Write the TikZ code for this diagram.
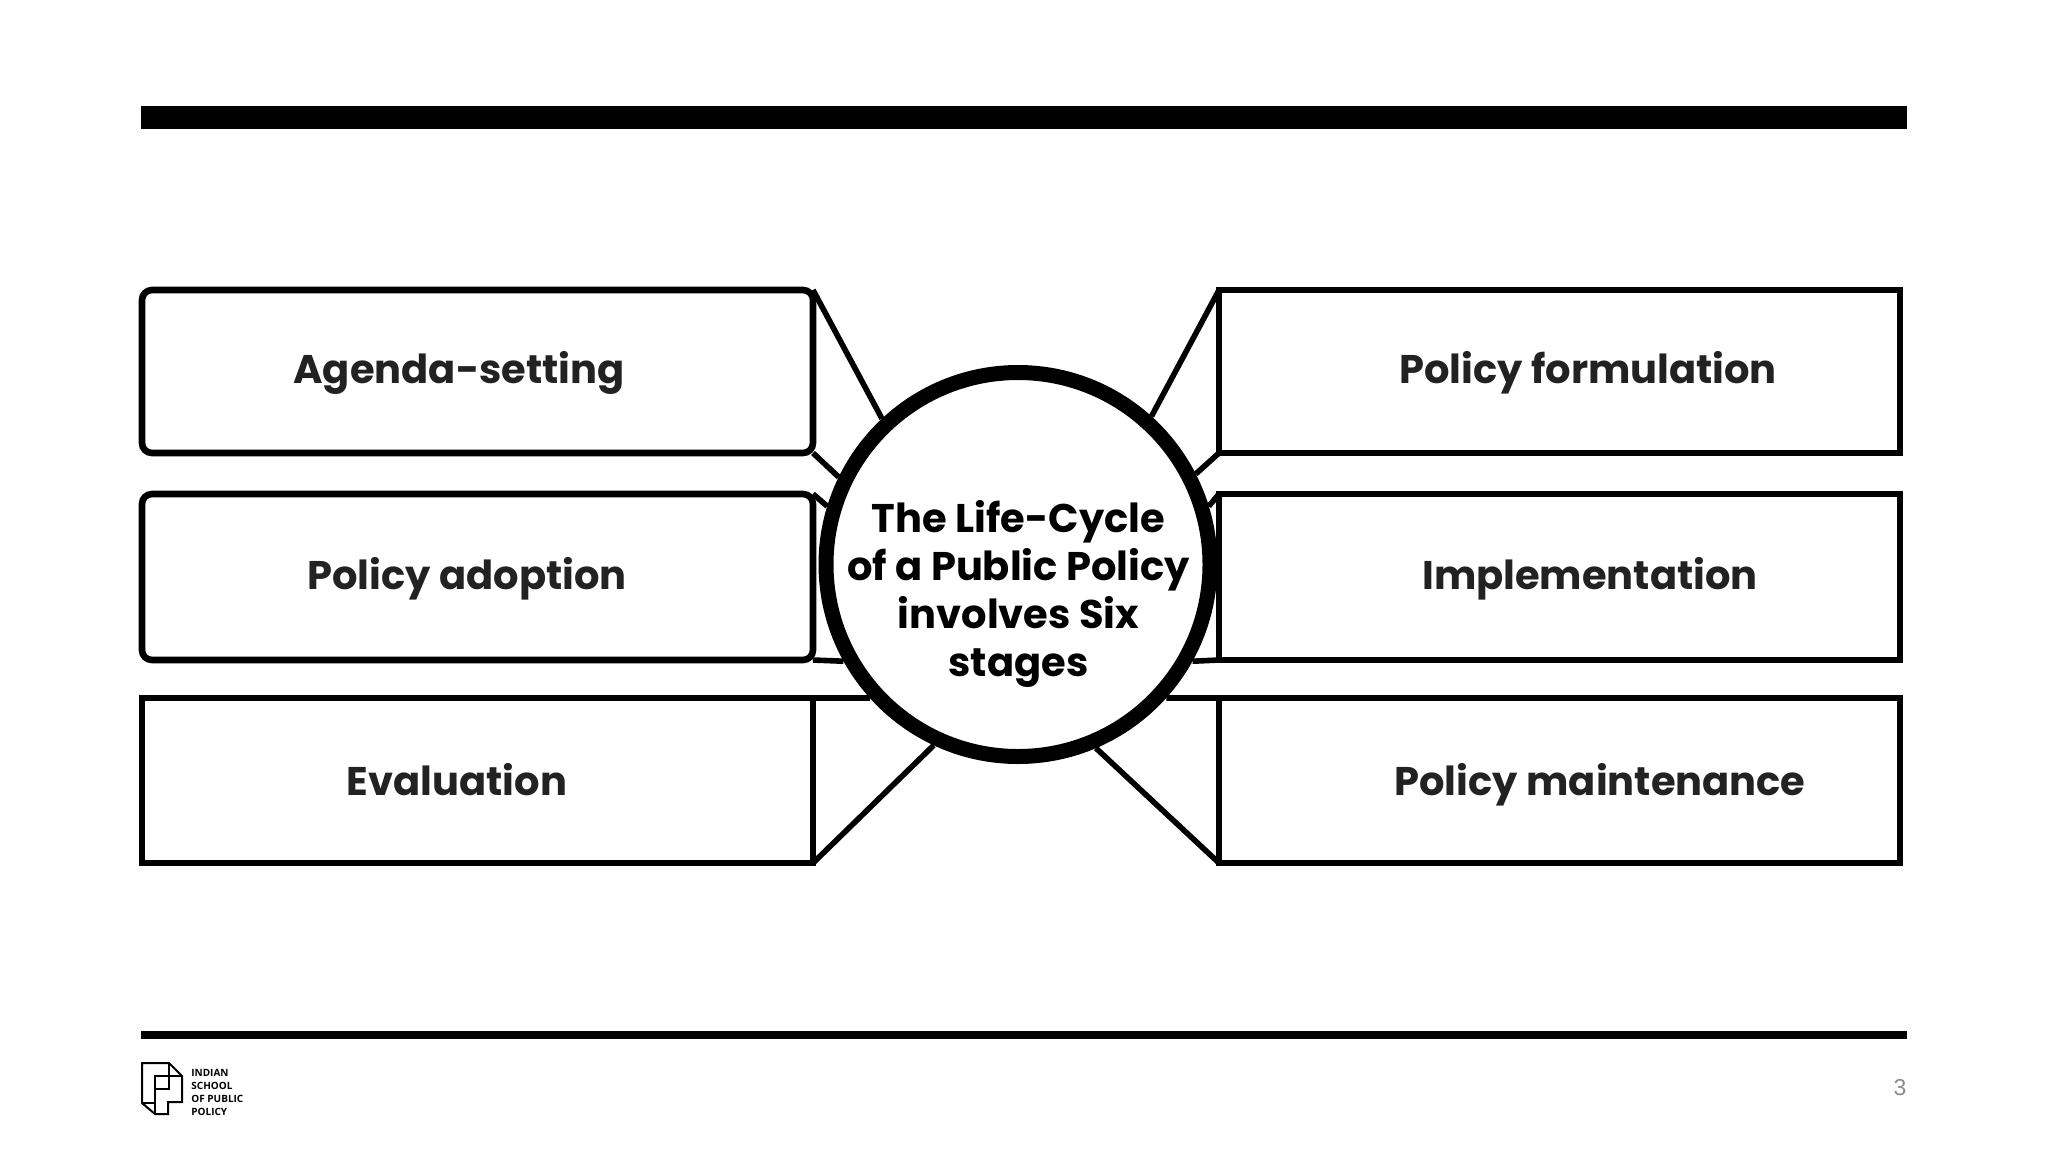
\documentclass[tikz,border=0pt]{standalone}
\usepackage{fontspec}
\setmainfont{Poppins}
\newfontfamily\logofont{Open Sans}
\newfontfamily\pagefont{Liberation Sans}
\definecolor{labelgray}{HTML}{222222}
\definecolor{pagegray}{HTML}{8C8C8C}

\tikzset{
	stagebox/.style={draw=black,line width=3.3pt,inner sep=0pt,outer sep=0pt,minimum height=#1},
	softbox/.style={rounded corners=5pt},
	leftbox/.style={minimum width=335.5pt},
	rightbox/.style={minimum width=340.5pt},
	stagelabel/.style={anchor=base,text=labelgray,font=\fontsize{20}{24}\selectfont\bfseries},
	wing/.style={line width=2.8pt},
	logoline/.style={line width=1pt,line join=miter},
	logotext/.style={anchor=west,inner sep=0pt,font=\logofont\fontsize{5}{5}\selectfont\bfseries}
}

\begin{document}
\begin{tikzpicture}[x=0.5pt,y=-0.5pt]
\useasboundingbox (0,0) rectangle (2048,1152);

% rules
\fill[black] (141,106) rectangle (1907,129);
\fill[black] (141,1031) rectangle (1907,1039);

% boxes
\node[stagebox=163*0.5pt,leftbox,softbox] (agenda) at (477.5,371.5) {};
\node[stagebox=166*0.5pt,leftbox,softbox] (adoption) at (477.5,577) {};
\node[stagebox=165*0.5pt,leftbox] (evaluation) at (477.5,780.5) {};
\node[stagebox=163*0.5pt,rightbox] (formulation) at (1559.5,371.5) {};
\node[stagebox=166*0.5pt,rightbox] (implementation) at (1559.5,577) {};
\node[stagebox=165*0.5pt,rightbox] (maintenance) at (1559.5,780.5) {};

% centre
\node[circle,draw=black,fill=white,line width=7.5pt,minimum size=192pt,inner sep=0pt] (hub) at (1018,564.5) {};

% wings
\draw[wing] (agenda.north east) -- (hub.133);
\draw[wing] (agenda.south east) -- (hub.154);
\draw[wing] (adoption.north east) -- (hub.163);
\draw[wing] (adoption.south east) -- (hub.209);
\draw[wing] (evaluation.north east) -- (hub.222);
\draw[wing] (evaluation.south east) -- (hub.245);
\draw[wing] (formulation.north west) -- (hub.48);
\draw[wing] (formulation.south west) -- (hub.27);
\draw[wing] (implementation.north west) -- (hub.17);
\draw[wing] (implementation.south west) -- (hub.331);
\draw[wing] (maintenance.north west) -- (hub.318);
\draw[wing] (maintenance.south west) -- (hub.293);

% labels
\node[stagelabel] (agendatext) at (459,383) {Agenda-setting};
\node[stagelabel] (adoptiontext) at (467,589) {Policy adoption};
\node[stagelabel] (evaluationtext) at (457,795) {Evaluation};
\node[stagelabel] (formulationtext) at (1588,383) {Policy formulation};
\node[stagelabel] (implementationtext) at (1590,589) {Implementation};
\node[stagelabel] (maintenancetext) at (1600,795) {Policy maintenance};
\node[align=center,text=black,font=\fontsize{20}{24}\selectfont\bfseries] (hubtext) at (1018.5,594) {The Life-Cycle\\of a Public Policy\\involves Six\\stages};

% logo
\draw[logoline] (142,1063) -- (169,1063) -- (182,1076) -- (182,1102) -- (168,1102) -- (168,1114) -- (155,1114) -- (142,1103) -- cycle;
\draw[logoline] (169,1063) -- (169,1076) -- (182,1076);
\draw[logoline] (169,1076) -- (155,1076) -- (155,1114);
\draw[logoline] (169,1076) -- (169,1089) -- (155,1089);
\draw[logoline] (142,1103) -- (155,1103);
\begin{scope}
\clip (185,1060) rectangle (260,1114);
\node[logotext] (logoa) at (191,1073) {INDIAN};
\node[logotext] (logob) at (191,1086) {SCHOOL};
\node[logotext] (logoc) at (191,1099) {OF PUBLIC};
\node[logotext] (logod) at (191,1112) {POLICY};
\end{scope}

% page number
\node[text=pagegray,font=\pagefont\fontsize{11.5}{13}\selectfont] (pagenum) at (1900,1088) {3};
\end{tikzpicture}
\end{document}
